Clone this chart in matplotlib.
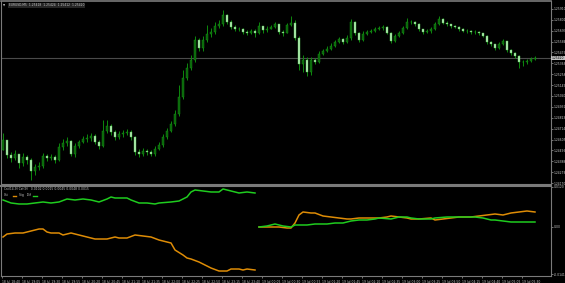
import numpy as np
import matplotlib
matplotlib.use("Agg")
import matplotlib.pyplot as plt

# --- price bars (M5) ---
first_open = 1.2450
closes = [1.2460, 1.2445, 1.2442, 1.2446, 1.2437, 1.2443, 1.2440, 1.2429, 1.2433, 1.2434,
          1.2444, 1.2442, 1.2443, 1.2440, 1.2453, 1.2457, 1.2459, 1.2446, 1.2454, 1.2458,
          1.2461, 1.2462, 1.2464, 1.2458, 1.2454, 1.2469, 1.2474, 1.2468, 1.2463, 1.2466,
          1.2467, 1.2468, 1.2463, 1.2448, 1.2446, 1.2449, 1.2448, 1.2446, 1.2451, 1.2455,
          1.2463, 1.2469, 1.2476, 1.2486, 1.2503, 1.2522, 1.2532, 1.2540, 1.2560, 1.2552,
          1.2560, 1.2566, 1.2568, 1.2574, 1.2576, 1.2585, 1.2578, 1.2573, 1.2571, 1.2571,
          1.2568, 1.2567, 1.2569, 1.2567, 1.2574, 1.2570, 1.2571, 1.2573, 1.2576, 1.2568,
          1.2567, 1.2575, 1.2577, 1.2562, 1.2536, 1.2540, 1.2528, 1.2540, 1.2538, 1.2546,
          1.2549, 1.2551, 1.2554, 1.2558, 1.2561, 1.2558, 1.2562, 1.2578, 1.2567, 1.2560,
          1.2566, 1.2568, 1.2569, 1.2571, 1.2572, 1.2573, 1.2567, 1.2559, 1.2564, 1.2567,
          1.2572, 1.2578, 1.2578, 1.2576, 1.2571, 1.2568, 1.2569, 1.2571, 1.2576, 1.2581,
          1.2577, 1.2576, 1.2574, 1.2573, 1.2571, 1.2569, 1.2569, 1.2568, 1.2568, 1.2567,
          1.2564, 1.2558, 1.2556, 1.2552, 1.2556, 1.2559, 1.2550, 1.2547, 1.2544, 1.2538,
          1.2538, 1.2539, 1.2541, 1.2542]
highs = [1.2467, 1.2460, 1.2448, 1.2450, 1.2446, 1.2447, 1.2445, 1.2442, 1.2436, 1.2438,
         1.2447, 1.2446, 1.2446, 1.2445, 1.2457, 1.2461, 1.2463, 1.2460, 1.2457, 1.2460,
         1.2464, 1.2466, 1.2467, 1.2466, 1.2460, 1.2480, 1.2480, 1.2476, 1.2470, 1.2469,
         1.2470, 1.2471, 1.2470, 1.2464, 1.2451, 1.2452, 1.2451, 1.2450, 1.2454, 1.2458,
         1.2466, 1.2472, 1.2479, 1.2490, 1.2515, 1.2530, 1.2537, 1.2545, 1.2564, 1.2562,
         1.2564, 1.2575, 1.2572, 1.2578, 1.2580, 1.2590, 1.2586, 1.2580, 1.2575, 1.2573,
         1.2572, 1.2570, 1.2571, 1.2571, 1.2578, 1.2574, 1.2574, 1.2575, 1.2578, 1.2576,
         1.2570, 1.2577, 1.2584, 1.2580, 1.2564, 1.2545, 1.2543, 1.2543, 1.2542, 1.2549,
         1.2551, 1.2554, 1.2557, 1.2560, 1.2563, 1.2562, 1.2565, 1.2581, 1.2579, 1.2568,
         1.2569, 1.2570, 1.2571, 1.2573, 1.2574, 1.2575, 1.2574, 1.2568, 1.2566, 1.2569,
         1.2574, 1.2582, 1.2580, 1.2579, 1.2577, 1.2571, 1.2571, 1.2573, 1.2578, 1.2584,
         1.2582, 1.2579, 1.2576, 1.2575, 1.2574, 1.2572, 1.2571, 1.2570, 1.2570, 1.2569,
         1.2567, 1.2565, 1.2559, 1.2555, 1.2558, 1.2561, 1.2559, 1.2551, 1.2548, 1.2545,
         1.2540, 1.2541, 1.2543, 1.2544]
lows = [1.2450, 1.2442, 1.2438, 1.2440, 1.2432, 1.2434, 1.2436, 1.2420, 1.2425, 1.2430,
        1.2432, 1.2439, 1.2440, 1.2437, 1.2439, 1.2450, 1.2454, 1.2444, 1.2443, 1.2452,
        1.2457, 1.2458, 1.2459, 1.2456, 1.2451, 1.2453, 1.2467, 1.2465, 1.2460, 1.2461,
        1.2463, 1.2465, 1.2460, 1.2445, 1.2443, 1.2444, 1.2445, 1.2444, 1.2444, 1.2450,
        1.2453, 1.2461, 1.2468, 1.2474, 1.2484, 1.2501, 1.2520, 1.2530, 1.2538, 1.2549,
        1.2549, 1.2558, 1.2563, 1.2566, 1.2572, 1.2574, 1.2576, 1.2571, 1.2569, 1.2569,
        1.2566, 1.2565, 1.2566, 1.2563, 1.2566, 1.2567, 1.2568, 1.2571, 1.2572, 1.2566,
        1.2564, 1.2567, 1.2574, 1.2560, 1.2530, 1.2528, 1.2524, 1.2525, 1.2536, 1.2537,
        1.2545, 1.2548, 1.2550, 1.2553, 1.2557, 1.2556, 1.2557, 1.2560, 1.2565, 1.2558,
        1.2559, 1.2565, 1.2567, 1.2568, 1.2570, 1.2570, 1.2566, 1.2557, 1.2558, 1.2563,
        1.2566, 1.2571, 1.2576, 1.2574, 1.2569, 1.2566, 1.2567, 1.2567, 1.2570, 1.2575,
        1.2576, 1.2574, 1.2572, 1.2572, 1.2569, 1.2568, 1.2567, 1.2566, 1.2566, 1.2565,
        1.2563, 1.2556, 1.2554, 1.2550, 1.2551, 1.2555, 1.2548, 1.2545, 1.2542, 1.2532,
        1.2534, 1.2536, 1.2538, 1.2540]

price_ticks = [1.25910, 1.25801, 1.25693, 1.25584, 1.25475, 1.25366, 1.25258, 1.25149,
               1.25040, 1.24931, 1.24823, 1.24714, 1.24605, 1.24496, 1.24388, 1.24279, 1.24170]
last_price = 1.25420
title_text = "EURUSD,M5  1.25418  1.25424  1.25412  1.25420"

# --- indicator, two sessions (bar index, value) ---
green1_idx = [0, 2, 4, 6, 8, 10, 12, 14, 16, 18, 20, 22, 24, 26, 27, 28, 31, 32, 34, 36,
              38, 39, 42, 44, 46, 47, 48, 52, 54, 55, 57, 59, 61, 63]
green1_val = [0.0081, 0.0072, 0.0069, 0.0069, 0.0072, 0.0075, 0.0072, 0.0075, 0.0084, 0.0081,
              0.0084, 0.0081, 0.0075, 0.0084, 0.0090, 0.0087, 0.0087, 0.0081, 0.0072, 0.0072,
              0.0069, 0.0072, 0.0075, 0.0078, 0.0090, 0.0105, 0.0111, 0.0105, 0.0105, 0.0114,
              0.0108, 0.0102, 0.0105, 0.0102]
orange1_idx = [0, 1, 3, 5, 6, 8, 9, 10, 11, 12, 14, 15, 17, 19, 21, 23, 26, 28, 29, 31,
               33, 35, 37, 39, 41, 42, 43, 45, 46, 47, 49, 51, 52, 54, 56, 57, 59, 60, 61, 63]
orange1_val = [-0.0030, -0.0021, -0.0018, -0.0018, -0.0015, -0.0009, -0.0006, -0.0006, -0.0015,
               -0.0018, -0.0018, -0.0024, -0.0018, -0.0024, -0.0030, -0.0036, -0.0036, -0.0030,
               -0.0033, -0.0033, -0.0024, -0.0027, -0.0030, -0.0039, -0.0045, -0.0048, -0.0069,
               -0.0084, -0.0093, -0.0096, -0.0105, -0.0117, -0.0123, -0.0132, -0.0132, -0.0126,
               -0.0126, -0.0129, -0.0126, -0.0129]
green2_idx = [64, 66, 68, 70, 72, 73, 76, 78, 81, 83, 85, 87, 89, 91, 93, 94, 97, 99, 101,
              102, 104, 107, 108, 111, 113, 116, 118, 120, 122, 123, 125, 127, 128, 131, 133]
green2_val = [0.0000, 0.0003, 0.0009, 0.0003, 0.0000, 0.0006, 0.0006, 0.0009, 0.0009, 0.0012,
              0.0012, 0.0018, 0.0021, 0.0021, 0.0024, 0.0027, 0.0024, 0.0030, 0.0030, 0.0027,
              0.0024, 0.0024, 0.0027, 0.0030, 0.0030, 0.0030, 0.0030, 0.0027, 0.0021, 0.0021,
              0.0018, 0.0015, 0.0015, 0.0015, 0.0015]
orange2_idx = [64, 66, 69, 71, 72, 73, 74, 75, 77, 78, 80, 82, 84, 86, 87, 89, 92, 94, 96,
               97, 99, 101, 102, 104, 107, 108, 110, 112, 114, 117, 119, 121, 123, 125, 127,
               129, 131, 133]
orange2_val = [0.0000, 0.0000, 0.0000, -0.0003, -0.0003, 0.0012, 0.0036, 0.0045, 0.0042, 0.0042,
               0.0033, 0.0030, 0.0027, 0.0024, 0.0024, 0.0027, 0.0027, 0.0027, 0.0030, 0.0033,
               0.0030, 0.0027, 0.0024, 0.0024, 0.0027, 0.0021, 0.0024, 0.0027, 0.0030, 0.0030,
               0.0033, 0.0036, 0.0039, 0.0036, 0.0042, 0.0045, 0.0048, 0.0045]
ind_ticks = [0.0120, 0.0, -0.0141]
ind_tick_labels = ["0.0120", "0.00", "-0.0141"]
ind_text = "Cst(14,9) Cst(9)   0.0102 0.0015 0.0045 0.0048 0.0015"

time_labels = ["18 Jul 18:40", "18 Jul 19:05", "18 Jul 19:30", "18 Jul 19:55", "18 Jul 20:20",
               "18 Jul 20:45", "18 Jul 21:10", "18 Jul 21:35", "18 Jul 22:00", "18 Jul 22:25",
               "18 Jul 22:50", "18 Jul 23:15", "18 Jul 23:40", "19 Jul 00:05", "19 Jul 00:30",
               "19 Jul 00:55", "19 Jul 01:20", "19 Jul 01:45", "19 Jul 02:10", "19 Jul 02:35",
               "19 Jul 03:00", "19 Jul 03:25", "19 Jul 03:50", "19 Jul 04:15", "19 Jul 04:40",
               "19 Jul 05:05", "19 Jul 05:30"]

BG = "black"
GRID = "#7a7a7a"
TXT = "#c8c8c8"
FS = 2.2
FS_SMALL = 2.15

fig = plt.figure(figsize=(5.65, 2.83), dpi=100, facecolor=BG)
ax = fig.add_axes([0.0018, 0.3498, 0.9734, 0.6467], facecolor=BG)
ax2 = fig.add_axes([0.0018, 0.0247, 0.9734, 0.3181], facecolor=BG)

closes = np.array(closes)
highs = np.array(highs)
lows = np.array(lows)
opens = np.r_[first_open, closes[:-1]]
idx = np.arange(len(closes))
bull = closes >= opens

# wicks then bodies
ax.vlines(idx, lows, highs, color="#0d8a0d", lw=0.7, zorder=2)
body_lo = np.minimum(opens, closes)
body_h = np.maximum(np.abs(closes - opens), 0.00003)
ax.bar(idx[bull], body_h[bull], bottom=body_lo[bull], width=0.6,
       color="#0b600b", edgecolor="#149a14", linewidth=0.3, zorder=3)
ax.bar(idx[~bull], body_h[~bull], bottom=body_lo[~bull], width=0.6,
       color="#b5ecb5", edgecolor="#52c452", linewidth=0.3, zorder=3)

ax.axhline(last_price, color="#4a4a4a", lw=0.8, zorder=1)
ax.set_xlim(-0.5, 137)
ax.set_ylim(1.2416, 1.2599)
ax.yaxis.tick_right()
ax.set_yticks(price_ticks)
ax.set_yticklabels(["%.5f" % p for p in price_ticks])
ax.set_xticks([])
ax.tick_params(axis="y", colors=TXT, labelsize=FS, length=1.2, width=0.4, pad=0.6)
ax.text(1.0012, last_price, "%.5f" % last_price, transform=ax.get_yaxis_transform(),
        fontsize=FS, color="black", va="center", ha="left", zorder=5,
        bbox=dict(boxstyle="square,pad=0.15", fc="#c0c0c0", ec="none"))
ax.text(0.003, 0.985, "\u25bc", transform=ax.transAxes, fontsize=2.0, color=TXT,
        va="top", ha="left")
ax.text(0.014, 0.988, title_text, transform=ax.transAxes, fontsize=FS_SMALL, color=TXT,
        va="top", ha="left",
        bbox=dict(boxstyle="square,pad=0.15", fc="#262626", ec="none"))

# indicator panel
ax2.plot(green1_idx, green1_val, color="#1fcc1f", lw=1.1)
ax2.plot(orange1_idx, orange1_val, color="#de8c06", lw=1.1)
ax2.plot(orange2_idx, orange2_val, color="#de8c06", lw=1.1)
ax2.plot(green2_idx, green2_val, color="#1fcc1f", lw=1.1)
ax2.set_xlim(-0.5, 137)
ax2.set_ylim(-0.0147, 0.0123)
ax2.yaxis.tick_right()
ax2.set_yticks(ind_ticks)
ax2.set_yticklabels(ind_tick_labels)
ax2.tick_params(axis="y", colors=TXT, labelsize=FS, length=1.2, width=0.4, pad=0.6)
ax2.set_xticks(np.arange(0, len(closes), 5) - 0.3)
ax2.set_xticklabels(time_labels, ha="left")
ax2.tick_params(axis="x", colors=TXT, labelsize=FS_SMALL, length=1.5, width=0.4, pad=1.2)

ax2.text(0.005, 0.985, ind_text, transform=ax2.transAxes, fontsize=FS_SMALL, color=TXT,
         va="top", ha="left")
ax2.text(0.005, 0.925, "Cst", transform=ax2.transAxes, fontsize=FS_SMALL, color=TXT,
         va="top", ha="left")
ax2.plot([0.021, 0.028], [0.89, 0.89], transform=ax2.transAxes, color="#de8c06", lw=1.0)
ax2.text(0.032, 0.925, "Sig   Dif", transform=ax2.transAxes, fontsize=FS_SMALL, color=TXT,
         va="top", ha="left")
ax2.plot([0.058, 0.066], [0.89, 0.89], transform=ax2.transAxes, color="#1fcc1f", lw=1.0)

for a in (ax, ax2):
    for s in a.spines.values():
        s.set_color(GRID)
        s.set_linewidth(0.8)
ax.spines["top"].set_linewidth(1.2)
ax2.spines["top"].set_linewidth(1.5)

fig.savefig("out.png", dpi=100, facecolor=BG)
